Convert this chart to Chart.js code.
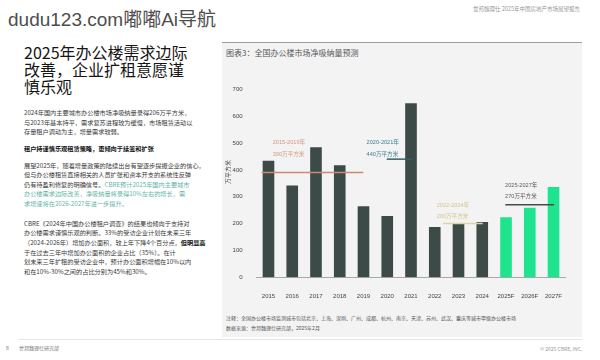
<!DOCTYPE html>
<html><head><meta charset="utf-8">
<script src="https://cdn.jsdelivr.net/npm/chart.js@4/dist/chart.umd.min.js"></script>
<style>
html,body{margin:0;padding:0;background:#fff;}
body{width:600px;height:360px;position:relative;overflow:hidden;font-family:"Noto Sans CJK SC","Noto Sans",sans-serif;color:#333;}
.t{position:absolute;white-space:nowrap;}
.wm{left:8px;top:10px;font-family:"Liberation Sans","Noto Sans CJK SC",sans-serif;font-size:19px;line-height:20px;color:#4e4e4e;}
.title{left:24px;font-size:16px;line-height:17px;color:#151515;}
.b{left:24px;font-size:6.2px;line-height:8px;color:#3a3a3a;}
.bold{font-weight:bold;color:#111;}
.teal{color:#5fb5a8;}
#panel{position:absolute;left:222px;top:42px;width:360px;height:294px;background:#f3f3f4;border-top:1.5px solid #9c9c9c;}
#cv{position:absolute;left:222px;top:60px;}
.small{font-size:5px;line-height:6px;color:#555;}
</style></head><body>
<div class="t wm">dudu123.com嘟嘟Ai导航</div>
<div class="t" style="left:473px;top:6px;font-size:5.5px;line-height:6px;color:#999;">世邦魏理仕 2025年中国房地产市场展望报告</div>

<div class="t title" style="top:43.5px;">2025年办公楼需求边际</div>
<div class="t title" style="top:60.5px;">改善，企业扩租意愿谨</div>
<div class="t title" style="top:77.5px;">慎乐观</div>

<div class="t b" style="top:109px;">2024年国内主要城市办公楼市场净吸纳量录得206万平方米，</div>
<div class="t b" style="top:118.7px;">与2023年基本持平，需求复苏进程较为缓慢，市场租赁活动以</div>
<div class="t b" style="top:128.4px;">存量租户调动为主，增量需求较弱。</div>

<div class="t b bold" style="top:145.3px;">租户持谨慎乐观租赁策略，更倾向于续签和扩张</div>

<div class="t b" style="top:161.5px;">展望2025年，随着增量政策的陆续出台有望逐步提振企业的信心，</div>
<div class="t b" style="top:171px;">但与办公楼租赁直接相关的人员扩张和资本开支的系统性反弹</div>
<div class="t b" style="top:180.5px;">仍有待盈利修复的明确信号。<span class="teal">CBRE预计2025年国内主要城市</span></div>
<div class="t b teal" style="top:190px;">办公楼需求边际改善，净吸纳量将录得10%左右的增长，需</div>
<div class="t b teal" style="top:199.5px;">求增速将在2026-2027年进一步提升。</div>

<div class="t b" style="top:219.5px;">CBRE《2024年中国办公楼租户调查》的结果也倾向于支持对</div>
<div class="t b" style="top:229.2px;">办公楼需求谨慎乐观的判断。33%的受访企业计划在未来三年</div>
<div class="t b" style="top:238.9px;">（2024-2026年）增加办公面积，较上年下降4个百分点，<span class="bold">但明显高</span></div>
<div class="t b" style="top:248.6px;">于在过去三年中增加办公面积的企业占比（35%）。在计</div>
<div class="t b" style="top:258.3px;">划未来三年扩租的受访企业中，预计办公面积增幅在10%以内</div>
<div class="t b" style="top:268px;">和在10%-30%之间的占比分别为45%和30%。</div>

<div id="panel"></div>
<div class="t" style="left:226px;top:47.5px;font-size:8px;line-height:9px;color:#555;">图表3：全国办公楼市场净吸纳量预测</div>
<canvas id="cv" width="360" height="240"></canvas>
<div class="t small" style="left:226px;top:315px;">注释：全国办公楼市场监测城市包括北京、上海、深圳、广州、成都、杭州、南京、天津、苏州、武汉、重庆等城市甲级办公楼市场</div>
<div class="t small" style="left:226px;top:325px;">数据来源：世邦魏理仕研究部，2025年2月</div>

<div style="position:absolute;left:18px;top:339px;width:564px;height:1px;background:#e6e6e6;"></div>
<div class="t small" style="left:6px;top:345px;color:#666;">8</div>
<div class="t small" style="left:19px;top:345px;color:#777;">世邦魏理仕研究部</div>
<div class="t small" style="left:540px;top:346px;color:#999;">© 2025 CBRE, INC.</div>

<script>
const categories = ['2015','2016','2017','2018','2019','2020','2021','2022','2023','2024','2025F','2026F','2027F'];
const actualValues = [434,342,484,417,265,228,648,187,200,206,null,null,null];
const forecastValues = [null,null,null,null,null,null,null,null,null,null,224,259,336];
const yTicks = [0,100,200,300,400,500,600,700];
const yAxisTitle = '万平方米';
const avgPeriods = ['2015-2019年','2020-2021年','2022-2024年','2025-2027年'];
const avgValues = [390,440,200,270];
const avgValueLabels = ['390万平方米','440万平方米','200万平方米','270万平方米'];
const avgStartYear = ['2015','2020','2022','2025F'];
const avgEndYear = ['2019','2021','2024','2027F'];

const avgStyle = [
  {line:'#c98b6c', text:'#d09a7a', ext:[-0.29,-0.01], tx:0.18, ty:[-29.8,-18.5]},
  {line:'#2f5f6c', text:'#3f7f8c', ext:[-0.02,0.07], tx:-0.87, ty:[-16.4,-5.1]},
  {line:'#ddd3a3', text:'#d3c68a', ext:[0.35,0.02], tx:0.08, ty:[-18.6,-7.6]},
  {line:'#4a4a4a', text:'#5a5a5a', ext:[-0.03,0.02], tx:-0.04, ty:[-19.5,-8.1]}
];

Chart.defaults.font.family = '"Liberation Sans","Noto Sans CJK SC",sans-serif';

const annotationPlugin = {
  id:'avgAnno',
  afterDatasetsDraw(chart){
    const {ctx, scales:{x,y}} = chart;
    ctx.save();
    avgValues.forEach((v,i)=>{
      const st = avgStyle[i];
      const s = categories.indexOf(avgStartYear[i]);
      const e = categories.indexOf(avgEndYear[i]);
      const py = y.getPixelForValue(v);
      ctx.strokeStyle = st.line; ctx.lineWidth = 1.5;
      ctx.beginPath();
      ctx.moveTo(x.getPixelForValue(s+st.ext[0]), py);
      ctx.lineTo(x.getPixelForValue(e+st.ext[1]), py);
      ctx.stroke();
      ctx.fillStyle = st.text;
      ctx.font = '5.6px "Liberation Sans","Noto Sans CJK SC",sans-serif';
      ctx.textAlign = 'left'; ctx.textBaseline = 'middle';
      const tx = x.getPixelForValue(s+st.tx);
      ctx.fillText(avgPeriods[i], tx, py+st.ty[0]);
      ctx.fillText(avgValueLabels[i], tx, py+st.ty[1]);
    });
    // y axis title
    ctx.fillStyle = '#444';
    ctx.font = '6px "Noto Sans CJK SC",sans-serif';
    ctx.translate(chart.scales.y.left + 5.5, 112);
    ctx.rotate(-Math.PI/2);
    ctx.textAlign = 'center'; ctx.textBaseline = 'middle';
    ctx.fillText(yAxisTitle, 0, 0);
    ctx.restore();
  }
};

new Chart(document.getElementById('cv'), {
  type:'bar',
  data:{
    labels:categories,
    datasets:[
      {label:'实际', data:actualValues, backgroundColor:'#3d4b48', barPercentage:0.49, categoryPercentage:1},
      {label:'预测', data:forecastValues, backgroundColor:'#1ee38f', barPercentage:0.49, categoryPercentage:1}
    ]
  },
  options:{
    responsive:false, animation:false, devicePixelRatio:1,
    layout:{padding:{left:0, right:16.6, top:29.3, bottom:0}},
    plugins:{legend:{display:false}, tooltip:{enabled:false}},
    scales:{
      x:{stacked:true, grid:{display:false}, border:{display:true, color:'#a8a8a8', width:1},
         ticks:{color:'#444', font:{size:6}, padding:7, maxRotation:0, autoSkip:false},
         afterFit(s){ s.height = 22.7; }},
      y:{stacked:true, min:0, max:700, grid:{display:false}, border:{display:false},
         ticks:{color:'#444', font:{size:6}, padding:6},
         afterBuildTicks(s){ s.ticks = yTicks.map(v=>({value:v})); },
         afterFit(s){ s.width = 34.6; }}
    }
  },
  plugins:[annotationPlugin]
});
</script>
</body></html>
